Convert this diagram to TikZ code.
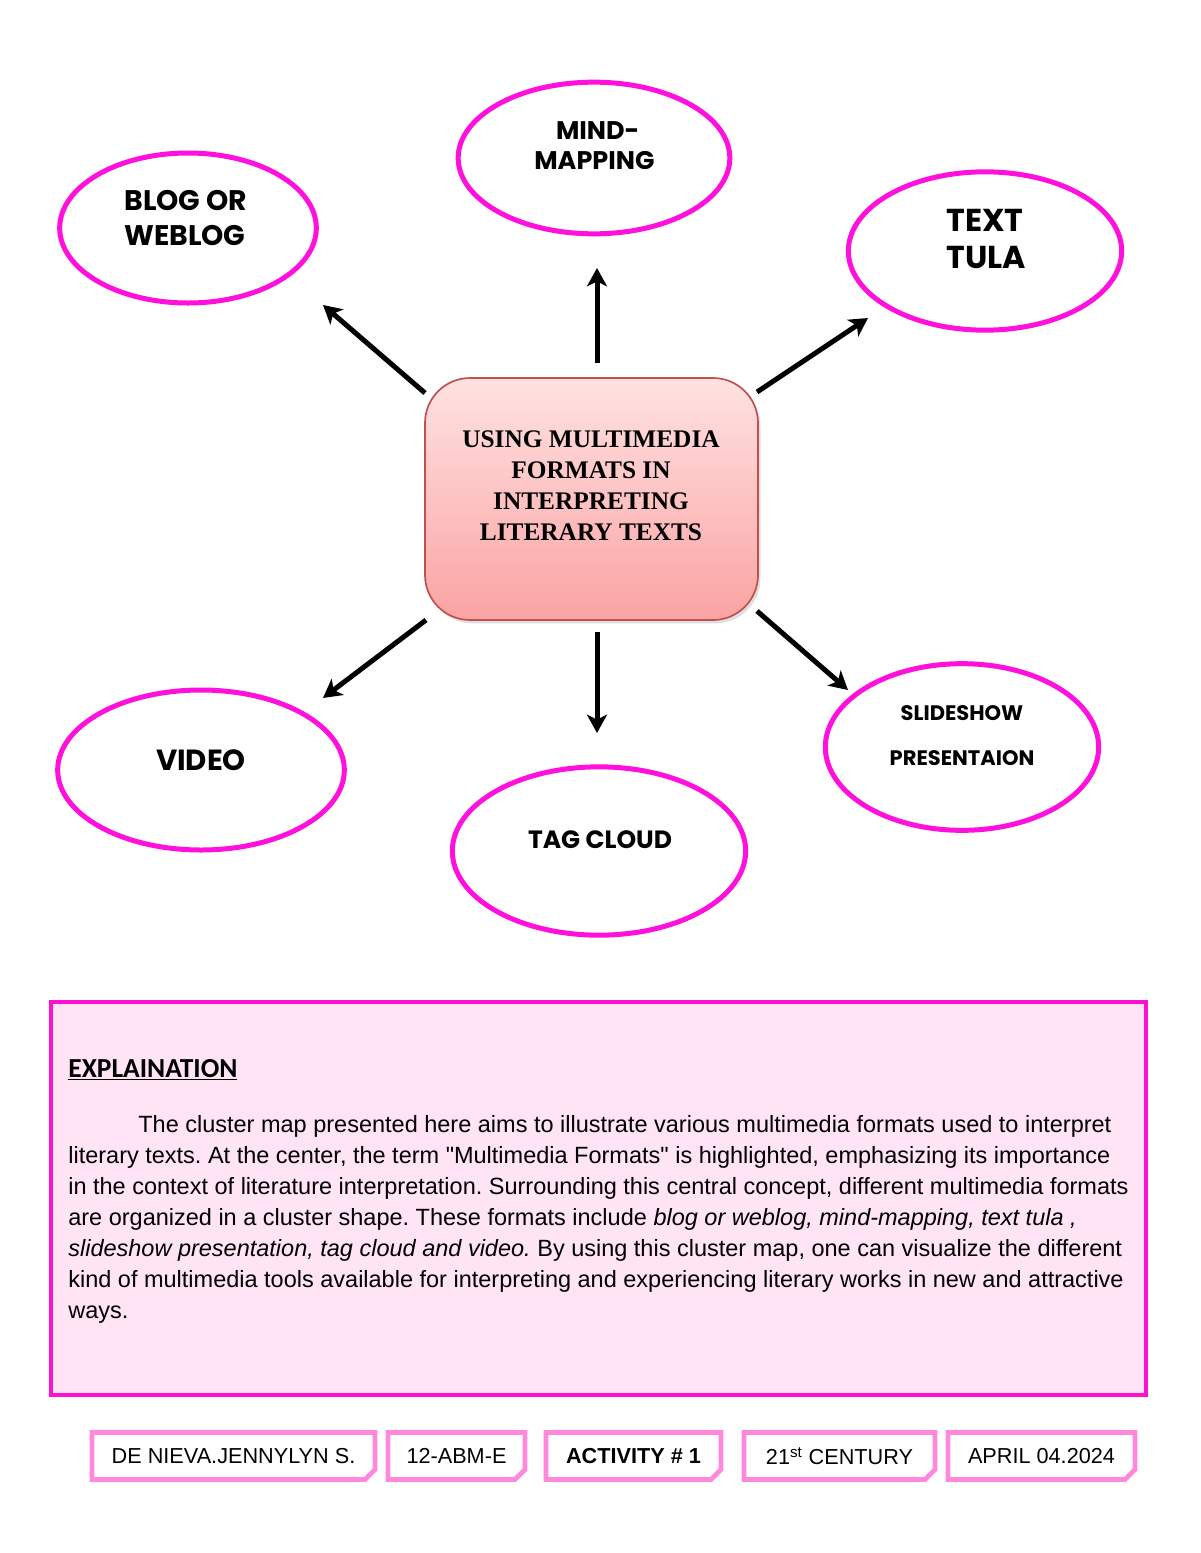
\documentclass[tikz,border=0pt]{standalone}
\usepackage{fontspec}
\setmainfont{Liberation Sans}
\newfontfamily\deco{Poppins}
\newfontfamily\serifb{Liberation Serif}
\newfontfamily\calib{Carlito}
\usetikzlibrary{shapes.geometric,shapes.misc,arrows.meta,shadows}
\definecolor{mag}{HTML}{FF10DC}
\definecolor{expborder}{HTML}{FF10D0}
\definecolor{expfill}{HTML}{FFE4F6}
\definecolor{footpink}{HTML}{FF88DD}
\definecolor{boxred}{HTML}{C0504D}
\definecolor{boxtop}{HTML}{FFE2E2}
\definecolor{boxbot}{HTML}{FBA3A3}
\frenchspacing
\begin{document}
\begin{tikzpicture}[x=0.6pt,y=-0.6pt,
  oval/.style={ellipse,draw=mag,line width=3pt,fill=white,inner sep=0pt},
  ovaltext/.style={font=\deco\bfseries\fontsize{17}{21}\selectfont,align=left,inner sep=0pt},
  arr/.style={line width=3pt,-{Stealth[length=11pt,width=12pt,inset=3pt]}},
  foot/.style={chamfered rectangle,chamfered rectangle corners=south east,chamfered rectangle xsep=3pt,chamfered rectangle ysep=3pt,draw=footpink,line width=2.8pt,fill=white,inner sep=0pt,minimum height=28.2pt,font=\fontsize{13}{15}\selectfont},
  bodyline/.style={anchor=base west,inner sep=0pt,font=\fontsize{14.1}{16}\selectfont}]
\useasboundingbox (0,0) rectangle (1200,1553);
\fill[white] (0,0) rectangle (1200,1553);

% outer ellipses
\node[oval,minimum width=154pt,minimum height=90pt] (blog) at (188,228) {};
\node[oval,minimum width=163pt,minimum height=91pt] (mind) at (594,158) {};
\node[oval,minimum width=164pt,minimum height=95pt] (tula) at (985,251) {};
\node[oval,minimum width=172pt,minimum height=96pt] (video) at (201,770) {};
\node[oval,minimum width=176pt,minimum height=101pt] (tag) at (599,851) {};
\node[oval,minimum width=164pt,minimum height=100pt] (slide) at (962,747) {};

\node[ovaltext,anchor=west] (blogt) at (124,218) {BLOG OR\\WEBLOG};
\node[ovaltext,anchor=west,font=\deco\bfseries\fontsize{15.3}{18}\selectfont] (mindt) at (534,146) {\hspace*{13pt}MIND-\\MAPPING};
\node[ovaltext,anchor=west,font=\deco\bfseries\fontsize{19}{22}\selectfont] (tulat) at (946,239) {TEXT\\TULA};
\node[ovaltext,font=\deco\bfseries\fontsize{17.5}{21}\selectfont] (videot) at (201,760) {VIDEO};
\node[ovaltext,font=\deco\bfseries\fontsize{15}{21}\selectfont] (tagt) at (600,840) {TAG CLOUD};
\node[ovaltext,font=\deco\bfseries\fontsize{12.6}{27}\selectfont,align=center] (slidet) at (962,736) {SLIDESHOW\\PRESENTAION};

% center box
\node[draw=boxred,line width=1pt,rounded corners=27pt,top color=boxtop,bottom color=boxbot,
  minimum width=199.8pt,minimum height=145.2pt,inner sep=0pt,
  drop shadow={opacity=0.25,shadow xshift=1.5pt,shadow yshift=-2pt}] (center) at (591.5,499) {};
\node[font=\serifb\bfseries\fontsize{15.2}{18.6}\selectfont,align=center,inner sep=0pt] (centert) at (591,486)
  {USING MULTIMEDIA\\FORMATS IN\\INTERPRETING\\LITERARY TEXTS};

% arrow endpoints
\coordinate (s1) at (597,363); \coordinate (e1) at (597,268);
\coordinate (s2) at (425,393); \coordinate (e2) at (323,305);
\coordinate (s3) at (757,392); \coordinate (e3) at (868,318);
\coordinate (s4) at (426,620); \coordinate (e4) at (323,698);
\coordinate (s5) at (597,632); \coordinate (e5) at (597,733);
\coordinate (s6) at (757,611); \coordinate (e6) at (848,690);
\draw[arr] (s1) -- (e1);
\draw[arr] (s2) -- (e2);
\draw[arr] (s3) -- (e3);
\draw[arr] (s4) -- (e4);
\draw[arr] (s5) -- (e5);
\draw[arr] (s6) -- (e6);

% explanation box
\node[draw=expborder,fill=expfill,line width=2.4pt,minimum width=657pt,minimum height=235.8pt,inner sep=0pt] (expl) at (598.5,1198.5) {};
\node[anchor=base west,inner sep=0pt,font=\calib\bfseries\fontsize{16.5}{18}\selectfont] (expt) at (68,1077) {\underline{EXPLAINATION}};
\node[bodyline] (l1) at (138,1132) {The cluster map presented here aims to illustrate various multimedia formats used to interpret};
\node[bodyline] (l2) at (68,1163) {literary texts. At the center, the term \textquotedbl Multimedia Formats\textquotedbl{} is highlighted, emphasizing its importance};
\node[bodyline] (l3) at (68,1194) {in the context of literature interpretation. Surrounding this central concept, different multimedia formats};
\node[bodyline] (l4) at (68,1225) {are organized in a cluster shape. These formats include \textit{blog or weblog, mind-mapping, text tula ,}};
\node[bodyline] (l5) at (68,1256) {\textit{slideshow presentation, tag cloud and video.} By using this cluster map, one can visualize the different};
\node[bodyline] (l6) at (68,1287) {kind of multimedia tools available for interpreting and experiencing literary works in new and attractive};
\node[bodyline] (l7) at (68,1318) {ways.};

% footer
\node[foot,minimum width=169.8pt] (f1) at (233.5,1456) {DE NIEVA.JENNYLYN S.};
\node[foot,minimum width=82.2pt] (f2) at (456.5,1456) {12-ABM-E};
\node[foot,minimum width=105pt,font=\bfseries\fontsize{13}{15}\selectfont] (f3) at (633.5,1456) {ACTIVITY \# 1};
\node[foot,minimum width=114.6pt] (f4) at (839.5,1456) {21\textsuperscript{st} CENTURY};
\node[foot,minimum width=112.2pt] (f5) at (1041.5,1456) {APRIL 04.2024};
\end{tikzpicture}
\end{document}
